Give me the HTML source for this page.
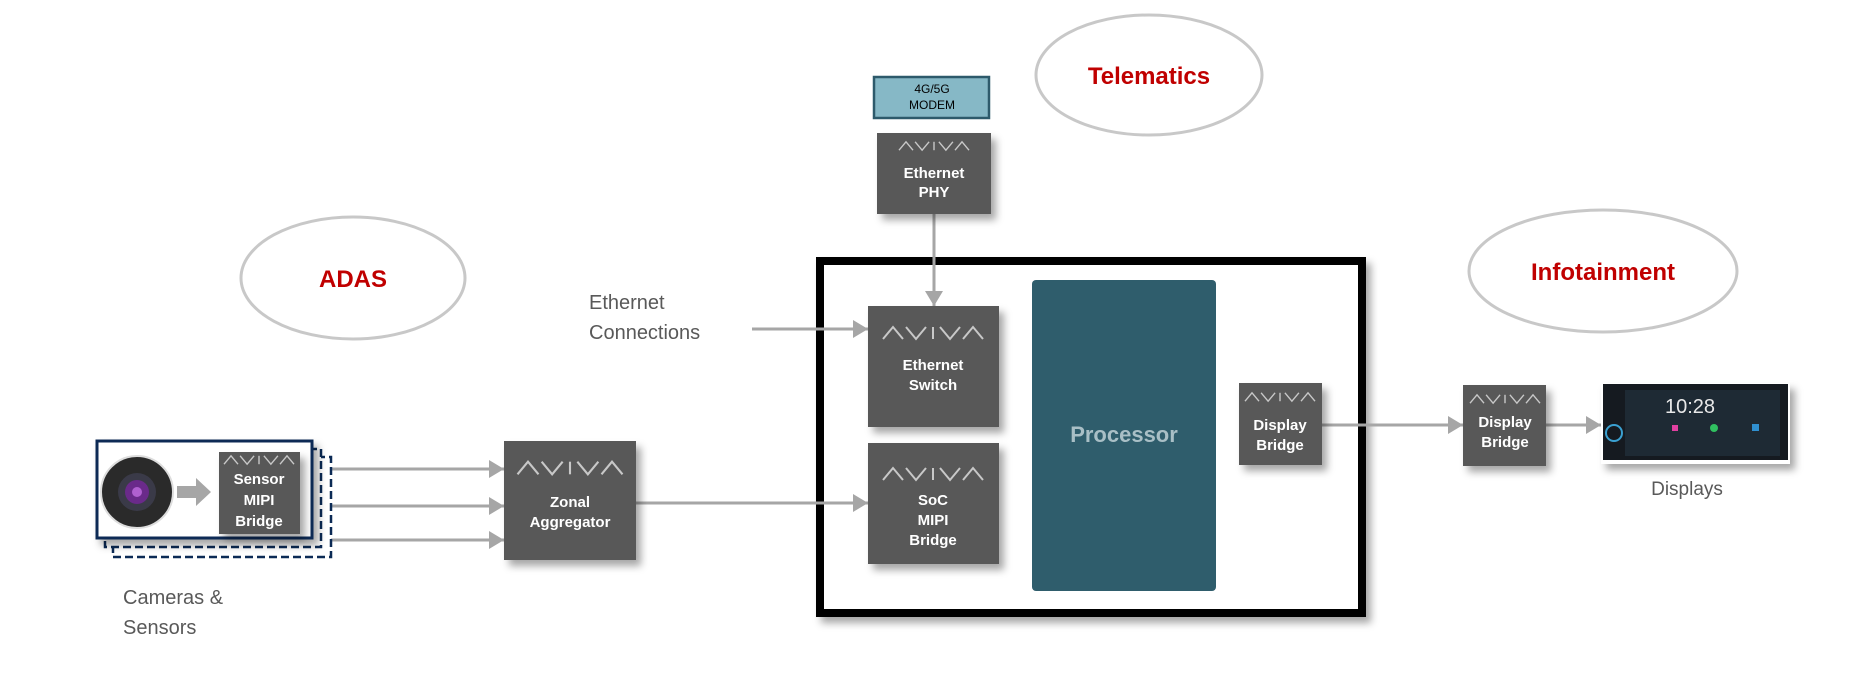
<!DOCTYPE html>
<html><head><meta charset="utf-8"><style>
html,body{margin:0;padding:0;background:#fff;}
svg{display:block;}
text{font-family:"Liberation Sans",sans-serif;}
</style></head><body>
<svg width="1864" height="678" viewBox="0 0 1864 678" xmlns="http://www.w3.org/2000/svg">
<defs>
<filter id="sh" x="-20%" y="-20%" width="150%" height="150%"><feDropShadow dx="5" dy="6" stdDeviation="4" flood-color="#000" flood-opacity="0.35"/></filter>
<g id="logo"><polyline points="-50,6 -40,-6 -30,6" fill="none" stroke="#c8c8c8" stroke-width="2"/><polyline points="-27,-6 -17,6 -7,-6" fill="none" stroke="#c8c8c8" stroke-width="2"/><line x1="0" y1="-6" x2="0" y2="6" stroke="#c8c8c8" stroke-width="2"/><polyline points="7,-6 17,6 27,-6" fill="none" stroke="#c8c8c8" stroke-width="2"/><polyline points="30,6 40,-6 50,6" fill="none" stroke="#c8c8c8" stroke-width="2"/></g>
<marker id="ah" markerWidth="5" markerHeight="6" refX="5" refY="3" orient="auto" markerUnits="strokeWidth"><path d="M0,0 L5,3 L0,6 z" fill="#a6a6a6"/></marker>
</defs>

<!-- ellipses -->
<ellipse cx="353" cy="278" rx="112" ry="61" fill="#fff" stroke="#c8c8c8" stroke-width="3"/>
<text x="353" y="287" text-anchor="middle" font-size="24" font-weight="bold" fill="#c00000">ADAS</text>
<ellipse cx="1149" cy="75" rx="113" ry="60" fill="#fff" stroke="#c8c8c8" stroke-width="3"/>
<text x="1149" y="84" text-anchor="middle" font-size="24" font-weight="bold" fill="#c00000">Telematics</text>
<ellipse cx="1603" cy="271" rx="134" ry="61" fill="#fff" stroke="#c8c8c8" stroke-width="3"/>
<text x="1603" y="280" text-anchor="middle" font-size="24" font-weight="bold" fill="#c00000">Infotainment</text>

<!-- big box -->
<rect x="820" y="261" width="542" height="352" fill="#fff" stroke="#000" stroke-width="8" filter="url(#sh)"/>

<!-- connectors -->
<g stroke="#a6a6a6" stroke-width="3" fill="none" marker-end="url(#ah)">
<line x1="934" y1="214" x2="934" y2="306"/>
<line x1="752" y1="329" x2="868" y2="329"/>
<line x1="636" y1="503" x2="868" y2="503"/>
<line x1="331" y1="469" x2="504" y2="469"/>
<line x1="331" y1="506" x2="504" y2="506"/>
<line x1="331" y1="540" x2="504" y2="540"/>
<line x1="1322" y1="425" x2="1463" y2="425"/>
<line x1="1546" y1="425" x2="1601" y2="425"/>
</g>

<!-- modem -->
<rect x="874" y="77" width="115" height="41" fill="#86b8c6" stroke="#2d5a6b" stroke-width="2.5"/>
<text x="932" y="93" text-anchor="middle" font-size="12" fill="#000">4G/5G</text>
<text x="932" y="109" text-anchor="middle" font-size="12" fill="#000">MODEM</text>

<!-- gray boxes -->
<g filter="url(#sh)" fill="#595959">
<rect x="877" y="133" width="114" height="81"/>
<rect x="868" y="306" width="131" height="121"/>
<rect x="868" y="443" width="131" height="121"/>
<rect x="504" y="441" width="132" height="119"/>
<rect x="1239" y="383" width="83" height="82"/>
<rect x="1463" y="385" width="83" height="81"/>
</g>
<rect x="1032" y="280" width="184" height="311" rx="4" fill="#2f5d6c"/>
<text x="1124" y="442" text-anchor="middle" font-size="22" font-weight="bold" fill="#a9bfc6">Processor</text>

<g fill="#fff" font-size="15" text-anchor="middle" font-weight="bold">
<use href="#logo" x="934" y="146" transform="translate(934 146) scale(0.7) translate(-934 -146)"/>
<text x="934" y="178">Ethernet</text><text x="934" y="197">PHY</text>
<use href="#logo" x="933" y="333"/>
<text x="933" y="370">Ethernet</text><text x="933" y="390">Switch</text>
<use href="#logo" x="933" y="474"/>
<text x="933" y="505">SoC</text><text x="933" y="525">MIPI</text><text x="933" y="545">Bridge</text>
<use href="#logo" x="570" y="468" transform="translate(570 468) scale(1.05) translate(-570 -468)"/>
<text x="570" y="507">Zonal</text><text x="570" y="527">Aggregator</text>
<use href="#logo" x="1280" y="397" transform="translate(1280 397) scale(0.7) translate(-1280 -397)"/>
<text x="1280" y="430">Display</text><text x="1280" y="450">Bridge</text>
<use href="#logo" x="1505" y="399" transform="translate(1505 399) scale(0.7) translate(-1505 -399)"/>
<text x="1505" y="427">Display</text><text x="1505" y="447">Bridge</text>
</g>

<!-- camera group -->
<rect x="113" y="457" width="218" height="100" fill="#fff" stroke="#0b2a55" stroke-width="2.5" stroke-dasharray="8 4"/>
<rect x="105" y="449" width="216" height="98" fill="#fff" stroke="#0b2a55" stroke-width="2.5" stroke-dasharray="8 4"/>
<rect x="97" y="441" width="215" height="97" fill="#fff" stroke="#0b2a55" stroke-width="3" filter="url(#sh)"/>
<circle cx="137" cy="492" r="36" fill="#2a2a2a" stroke="#ddd" stroke-width="2"/>
<circle cx="137" cy="492" r="19" fill="#3a3a48"/>
<circle cx="137" cy="492" r="12" fill="#6a2a8a"/>
<circle cx="137" cy="492" r="5" fill="#b060d0"/>
<path d="M177,486 L196,486 L196,478 L211,492 L196,506 L196,498 L177,498 z" fill="#a6a6a6"/>
<rect x="219" y="452" width="81" height="82" fill="#595959" filter="url(#sh)"/>
<use href="#logo" x="259" y="460" transform="translate(259 460) scale(0.7) translate(-259 -460)"/>
<g fill="#fff" font-size="15" text-anchor="middle" font-weight="bold">
<text x="259" y="484">Sensor</text><text x="259" y="505">MIPI</text><text x="259" y="526">Bridge</text>
</g>

<!-- display image -->
<rect x="1601" y="383" width="189" height="81" fill="#fff" filter="url(#sh)"/>
<rect x="1603" y="384" width="185" height="76" fill="#151a20"/>
<rect x="1625" y="390" width="155" height="66" fill="#1e2a34"/>
<text x="1690" y="413" text-anchor="middle" font-size="20" fill="#e8e8e8">10:28</text>
<circle cx="1614" cy="433" r="8" fill="none" stroke="#3aa0d0" stroke-width="2"/>
<rect x="1672" y="425" width="6" height="6" fill="#e040a0"/><circle cx="1714" cy="428" r="4" fill="#30c060"/><rect x="1752" y="424" width="7" height="7" fill="#3090d0"/>

<!-- labels -->
<g fill="#595959" font-size="20">
<text x="589" y="309">Ethernet</text><text x="589" y="339">Connections</text>
<text x="123" y="604">Cameras &amp;</text><text x="123" y="634">Sensors</text>
<text x="1687" y="495" text-anchor="middle" font-size="19">Displays</text>
</g>
</svg>
</body></html>
